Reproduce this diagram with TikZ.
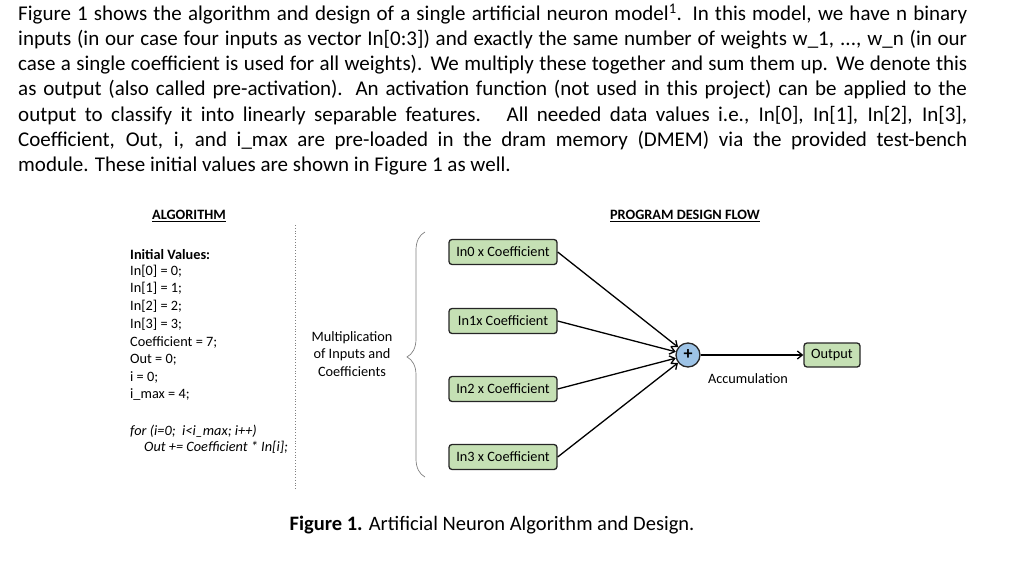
\documentclass[tikz,border=0pt]{standalone}
\usepackage{fontspec}
\setmainfont{Carlito}
\usetikzlibrary{arrows.meta,decorations.pathreplacing}
\begin{document}
\begin{tikzpicture}[x=1pt,y=-1pt,
  para/.style={anchor=west,inner sep=0pt,font=\fontsize{21}{24}\selectfont},
  small/.style={inner sep=0pt,font=\fontsize{14.3}{17}\selectfont},
  code/.style={small,anchor=west},
  gbox/.style={draw=black!85,line width=1.3pt,rounded corners=3pt,minimum height=25pt,inner sep=2pt,font=\fontsize{14.3}{17}\selectfont},
  arr/.style={line width=1.3pt,-{Straight Barb[length=5pt,width=8pt]}}]
\definecolor{gfill}{HTML}{C5E0B4}
\definecolor{bfill}{HTML}{9DC3E6}
\useasboundingbox (0,0) rectangle (1024,564);
\node[para] (p1) at (18,14) {\makebox[949pt][s]{Figure 1 shows the algorithm and design of a single artificial neuron model\textsuperscript{1}. In this model, we have n binary}};
\node[para] (p2) at (18,40) {\makebox[949pt][s]{inputs (in our case four inputs as vector In[0:3]) and exactly the same number of weights w\_1, ..., w\_n (in our}};
\node[para] (p3) at (18,65) {\makebox[949pt][s]{case a single coefficient is used for all weights). We multiply these together and sum them up. We denote this}};
\node[para] (p4) at (18,90) {\makebox[949pt][s]{as output (also called pre-activation). An activation function (not used in this project) can be applied to the}};
\node[para] (p5) at (18,116) {\makebox[949pt][s]{output to classify it into linearly separable features. \ All needed data values i.e., In[0], In[1], In[2], In[3],}};
\node[para] (p6) at (18,141) {\makebox[949pt][s]{Coefficient, Out, i, and i\_max are pre-loaded in the dram memory (DMEM) via the provided test-bench}};
\node[para] (p7) at (18,166) {module. These initial values are shown in Figure 1 as well.};

\node[small,font=\bfseries\fontsize{14.3}{17}\selectfont] (alg) at (189,216) {\underline{ALGORITHM}};
\node[small,font=\bfseries\fontsize{14.3}{17}\selectfont] (pdf) at (685,216) {\underline{PROGRAM DESIGN FLOW}};
\node[code,font=\bfseries\fontsize{14.3}{17}\selectfont] (iv) at (130,255) {Initial Values:};
\node[code] (c0) at (130,271) {In[0] = 0;};
\node[code] (c1) at (130,288) {In[1] = 1;};
\node[code] (c2) at (130,306) {In[2] = 2;};
\node[code] (c3) at (130,324) {In[3] = 3;};
\node[code] (c4) at (130,342) {Coefficient = 7;};
\node[code] (c5) at (130,360) {Out = 0;};
\node[code] (c6) at (130,377) {i = 0;};
\node[code] (c7) at (130,395) {i\_max = 4;};
\node[code,font=\itshape\fontsize{14.3}{17}\selectfont] (f1) at (130,431) {for (i=0; \ i<i\_max; i++)};
\node[code,font=\itshape\fontsize{14.3}{17}\selectfont] (f2) at (144,447) {Out += Coefficient * In[i];};
\draw[dotted,gray,line width=0.8pt] (295,225) -- (295,490);
\node[small,align=center,font=\fontsize{14.3}{17.5}\selectfont] (mul) at (352,354) {Multiplication\\of Inputs and\\Coefficients};
\coordinate (bt) at (425,477);
\coordinate (bb) at (425,232);
\draw[gray,line width=0.7pt,decorate,decoration={brace,amplitude=18pt,aspect=0.49}] (bt) -- (bb);
\foreach \i/\t/\y in {0/In0 x Coefficient/252,1/In1x Coefficient/321,2/In2 x Coefficient/389,3/In3 x Coefficient/457}
  \node[gbox,fill=gfill,minimum width=108pt] (b\i) at (503,\y) {\t};
\node[circle,draw=black!85,line width=1.3pt,fill=bfill,minimum size=24pt,inner sep=0pt,font=\bfseries\fontsize{18}{18}\selectfont] (plus) at (688,355) {+};
\node[gbox,fill=gfill,minimum width=56pt,minimum height=24pt] (out) at (832,355) {Output};
\node[small] (acc) at (748,379) {Accumulation};
\foreach \i in {0,...,3} \draw[arr] (b\i.east) -- (plus);
\draw[arr] (plus) -- (out);
\node[inner sep=0pt,font=\fontsize{20.5}{24}\selectfont] (cap) at (492,525) {\textbf{Figure 1.} Artificial Neuron Algorithm and Design.};
\end{tikzpicture}
\end{document}
